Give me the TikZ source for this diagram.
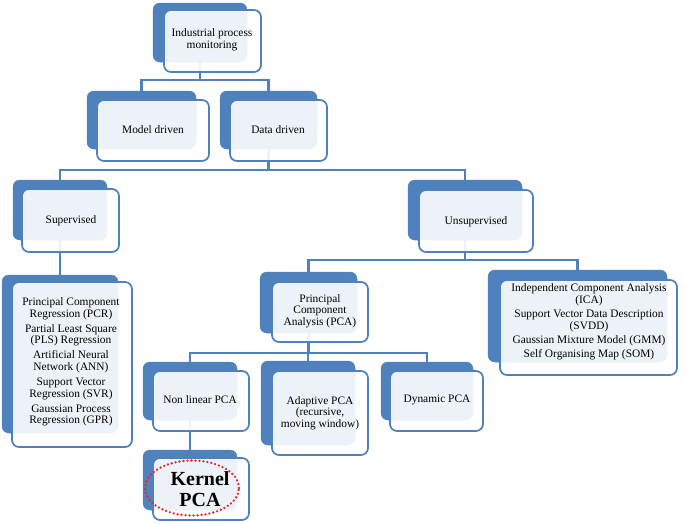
\documentclass[tikz,border=0pt]{standalone}
\usepackage{fontspec}
\setmainfont{Liberation Serif}
\usetikzlibrary{fit,shapes.geometric}
\definecolor{sblue}{HTML}{4F81BD}
\definecolor{kred}{HTML}{E8262A}
\begin{document}
\begin{tikzpicture}[x=1pt,y=-1pt,
 backbox/.style={fill=sblue, draw=sblue, rounded corners=7pt, inner sep=0pt, line width=0.5pt},
 frontbox/.style={fill=white, fill opacity=0.9, text opacity=1, draw=sblue, line width=1.7pt, rounded corners=7pt, inner sep=0pt},
 txt/.style={align=center, font=\fontsize{11.4}{11.6}\selectfont, inner sep=0pt},
 conn/.style={draw=sblue, line width=2.3pt}]
\useasboundingbox (0,0) rectangle (685,523);
% back boxes
\node[backbox, fit={(153,3)(247,62)}] (ind-b) {};
\node[backbox, fit={(87,91)(196,149)}] (model-b) {};
\node[backbox, fit={(220,91)(317,149)}] (data-b) {};
\node[backbox, fit={(13,180)(107,240)}] (sup-b) {};
\node[backbox, fit={(408,180)(522,240)}] (unsup-b) {};
\node[backbox, fit={(2,275)(118,433)}] (suplist-b) {};
\node[backbox, fit={(260,272)(357,333)}] (pca-b) {};
\node[backbox, fit={(488,270)(667,362)}] (ica-b) {};
\node[backbox, fit={(143,362)(237,420)}] (nonlin-b) {};
\node[backbox, fit={(261,361)(355,445)}] (adapt-b) {};
\node[backbox, fit={(381,362)(473,420)}] (dyn-b) {};
\node[backbox, fit={(143,450)(237,510)}] (kernel-b) {};
% connectors
\draw[conn] (ind-b.south) -- ++(0,18) coordinate (j1) -| (model-b.north);
\draw[conn] (j1) -| (data-b.north);
\draw[conn] (data-b.south) -- ++(0,21) coordinate (j2) -| (sup-b.north);
\draw[conn] (j2) -| (unsup-b.north);
\draw[conn] (sup-b.south) -- (suplist-b.north);
\draw[conn] (unsup-b.south) -- ++(0,20) coordinate (j3) -| (pca-b.north);
\draw[conn] (j3) -| (ica-b.north);
\draw[conn] (pca-b.south) -- ++(0,20) coordinate (j4) -| (nonlin-b.north);
\draw[conn] (j4) -| (dyn-b.north);
\draw[conn] (j4) -| (adapt-b.north);
\draw[conn] (nonlin-b.south) -- (kernel-b.north);
% front boxes
\node[frontbox, fit={(164,10)(261,72)}] (ind) {};
\node[frontbox, fit={(97,100)(209,161)}] (model) {};
\node[frontbox, fit={(230,100)(327,161)}] (data) {};
\node[frontbox, fit={(22,189)(119,252)}] (sup) {};
\node[frontbox, fit={(419,190)(533,252)}] (unsup) {};
\node[frontbox, fit={(12,282)(132,447)}] (suplist) {};
\node[frontbox, fit={(272,282)(368,342)}] (pca) {};
\node[frontbox, fit={(500,280)(677,375)}] (ica) {};
\node[frontbox, fit={(153,371)(249,431)}] (nonlin) {};
\node[frontbox, fit={(272,371)(368,455)}] (adapt) {};
\node[frontbox, fit={(390,371)(483,431)}] (dyn) {};
\node[frontbox, fit={(153,458)(249,520)}] (kernel) {};
% texts
\node[txt] (ind-t) at (212,40) {Industrial process\\monitoring};
\node[txt] (model-t) at (153,130) {Model driven};
\node[txt] (data-t) at (278,130) {Data driven};
\node[txt] (sup-t) at (71,221) {Supervised};
\node[txt] (unsup-t) at (476,222) {Unsupervised};
\node[txt] (suplist-t) at (71,362) {Principal Component\\Regression (PCR)\\[3.5pt]Partial Least Square\\(PLS) Regression\\[3.5pt]Artificial Neural\\Network (ANN)\\[3.5pt]Support Vector\\Regression (SVR)\\[3.5pt]Gaussian Process\\Regression (GPR)};
\node[txt] (pca-t) at (320,311) {Principal\\Component\\Analysis (PCA)};
\node[txt] (ica-t) at (589,322) {Independent Component Analysis\\(ICA)\\[2.5pt]Support Vector Data Description\\(SVDD)\\[2.5pt]Gaussian Mixture Model (GMM)\\[2.5pt]Self Organising Map (SOM)};
\node[txt] (nonlin-t) at (200,400) {Non linear PCA};
\node[txt] (adapt-t) at (320,413) {Adaptive PCA\\(recursive,\\moving window)};
\node[txt] (dyn-t) at (437,400) {Dynamic PCA};
\node[align=center, inner sep=0pt, font=\fontsize{20}{21}\selectfont\bfseries] (kernel-t) at (200,489) {Kernel\\PCA};
\node[draw=kred, ellipse, line width=2.6pt, dash pattern=on 0pt off 4pt, line cap=round, minimum width=94pt, minimum height=55pt, inner sep=0pt] (kring) at (192,488) {};
\end{tikzpicture}
\end{document}
